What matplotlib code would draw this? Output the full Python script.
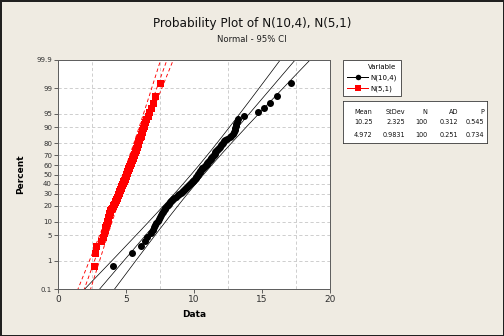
import numpy as np
import matplotlib
matplotlib.use('Agg')
import matplotlib.pyplot as plt
from matplotlib.patches import Rectangle
from statistics import NormalDist

# sorted sample values
n10_4 = [4.04, 5.46, 6.08, 6.42, 6.58, 6.86, 6.95, 7.06, 7.15, 7.24,
         7.33, 7.41, 7.48, 7.55, 7.62, 7.70, 7.77, 7.84, 7.90, 8.02,
         8.10, 8.18, 8.24, 8.30, 8.36, 8.42, 8.55, 8.68, 8.80, 8.92,
         9.04, 9.14, 9.20, 9.26, 9.34, 9.42, 9.50, 9.58, 9.66, 9.72,
         9.78, 9.84, 9.90, 9.96, 10.02, 10.08, 10.13, 10.18, 10.23, 10.28,
         10.33, 10.38, 10.42, 10.46, 10.50, 10.56, 10.62, 10.68, 10.74, 10.80,
         10.86, 10.92, 10.98, 11.04, 11.10, 11.16, 11.22, 11.28, 11.34, 11.40,
         11.46, 11.52, 11.58, 11.64, 11.70, 11.78, 11.86, 11.94, 12.02, 12.08,
         12.14, 12.20, 12.26, 12.40, 12.62, 12.74, 12.84, 12.92, 12.98, 13.04,
         13.08, 13.12, 13.16, 13.22, 13.70, 14.73, 15.17, 15.59, 16.08, 17.13]
n5_1 = [2.65, 2.72, 2.76, 3.14, 3.30, 3.36, 3.42, 3.48, 3.53, 3.58,
        3.62, 3.66, 3.70, 3.74, 3.78, 3.82, 3.86, 3.92, 3.98, 4.04,
        4.08, 4.12, 4.16, 4.20, 4.24, 4.28, 4.31, 4.34, 4.38, 4.42,
        4.45, 4.48, 4.51, 4.54, 4.57, 4.60, 4.63, 4.66, 4.69, 4.72,
        4.75, 4.78, 4.81, 4.84, 4.87, 4.89, 4.92, 4.95, 4.97, 4.99,
        5.02, 5.04, 5.07, 5.09, 5.12, 5.14, 5.17, 5.19, 5.22, 5.25,
        5.28, 5.31, 5.34, 5.37, 5.40, 5.43, 5.46, 5.49, 5.52, 5.55,
        5.58, 5.61, 5.64, 5.67, 5.70, 5.73, 5.76, 5.79, 5.82, 5.85,
        5.88, 5.91, 5.95, 5.99, 6.03, 6.07, 6.11, 6.15, 6.20, 6.25,
        6.30, 6.36, 6.42, 6.50, 6.60, 6.72, 6.86, 6.96, 7.16, 7.50]

names = ['N(10,4)', 'N(5,1)']
means = [10.25, 4.972]
stdevs = [2.325, 0.9831]
mean_txt = ['10.25', '4.972']
stdev_txt = ['2.325', '0.9831']
n_txt = ['100', '100']
ad_txt = ['0.312', '0.251']
p_txt = ['0.545', '0.734']

pct_ticks = [0.1, 1, 5, 10, 20, 30, 40, 50, 60, 70, 80, 90, 95, 99, 99.9]
pct_labels = ['0.1', '1', '5', '10', '20', '30', '40', '50', '60', '70',
              '80', '90', '95', '99', '99.9']
x_ticks = [0, 5, 10, 15, 20]

nd = NormalDist()
_ppf = np.vectorize(nd.inv_cdf, otypes=[float])
_cdf = np.vectorize(nd.cdf, otypes=[float])


def fwd(p):
    p = np.clip(np.asarray(p, dtype=float) / 100.0, 1e-9, 1 - 1e-9)
    return _ppf(p)


def inv(z):
    return _cdf(np.asarray(z, dtype=float)) * 100.0


bg = '#EFEBE2'
W, H = 504, 336
fig = plt.figure(figsize=(W / 72, H / 72), dpi=72, facecolor=bg)
fig.patches.append(Rectangle((0, 0), 1, 1, transform=fig.transFigure,
                             fill=False, edgecolor='#202020', lw=3))

ax = fig.add_axes([58 / W, 1 - 289 / H, 272 / W, 229 / H])
ax.set_facecolor('white')
ax.set_yscale('function', functions=(fwd, inv))

styles = [dict(color='black', marker='o', ls='-', lw=0.7, ms=7),
          dict(color='#FF0000', marker='s', ls=(0, (4, 3)), lw=0.9, ms=7)]

zgrid = np.linspace(-3.3, 3.3, 200)
handles = []
for data, mu, sd, st in zip([n10_4, n5_1], means, stdevs, styles):
    n = len(data)
    pos = 100.0 * (np.arange(1, n + 1) - 0.3) / (n + 0.4)
    centre = mu + sd * zgrid
    se = sd * np.sqrt(1.0 / n + zgrid ** 2 / (2.0 * n))
    pg = inv(zgrid)
    for xs in (centre, centre - 1.96 * se, centre + 1.96 * se):
        ax.plot(xs, pg, color=st['color'], ls=st['ls'], lw=st['lw'], zorder=2)
    ax.plot(data, pos, ls='none', marker=st['marker'], color=st['color'],
            ms=st['ms'], mew=0, zorder=3)
    handles.append(plt.Line2D([], [], color=st['color'], ls='-', lw=1.0,
                              marker=st['marker'], ms=5.5, mew=0))

ax.set_xlim(0, 20)
ax.set_ylim(0.1, 99.9)
ax.set_xticks(x_ticks)
ax.set_xticks(np.arange(0, 20.1, 2.5), minor=True)
ax.set_yticks(pct_ticks)
ax.set_yticklabels(pct_labels)
ax.yaxis.set_minor_locator(matplotlib.ticker.NullLocator())
ax.tick_params(axis='x', which='major', labelsize=9, length=4, color='#404040',
               labelcolor='#303030', pad=2)
ax.tick_params(axis='x', which='minor', length=0)
ax.tick_params(axis='y', labelsize=7, length=4, color='#404040',
               labelcolor='#303030', pad=2)
ax.grid(True, which='minor', axis='x', color='#C4C4C4', ls=(0, (4, 3)), lw=0.8)
ax.grid(True, which='major', axis='y', color='#C4C4C4', ls=(0, (4, 3)), lw=0.8)
for s in ax.spines.values():
    s.set_color('#606060')
    s.set_linewidth(1)

ax.set_xlabel('Data', fontsize=9, fontweight='bold', labelpad=6)
ax.set_ylabel('Percent', fontsize=9, fontweight='bold', labelpad=11)

fig.text(0.5, 1 - 23 / H, 'Probability Plot of N(10,4), N(5,1)', ha='center',
         va='center', fontsize=12, color='#101010')
fig.text(0.5, 1 - 39 / H, 'Normal - 95% CI', ha='center', va='center',
         fontsize=8.5, color='#202020')

leg = fig.legend(handles, names, title='Variable', loc='upper left',
                 bbox_to_anchor=(343 / W, 1 - 60 / H), fontsize=7,
                 title_fontsize=7, frameon=True, fancybox=False,
                 handlelength=3, borderpad=0.6, labelspacing=0.6,
                 handletextpad=0.3, borderaxespad=0)
leg.get_frame().set_edgecolor('#303030')
leg.get_frame().set_linewidth(0.8)
leg.get_frame().set_facecolor('white')
leg.get_frame().set_alpha(1)
leg._legend_box.align = 'right'

tab = fig.add_axes([343 / W, 1 - 143.5 / H, 144 / W, 42 / H])
tab.set_xticks([])
tab.set_yticks([])
tab.set_facecolor('white')
for s in tab.spines.values():
    s.set_color('#303030')
    s.set_linewidth(0.8)
cols_right = [372.5, 405.5, 427, 458.5, 484]
headers = ['Mean', 'StDev', 'N', 'AD', 'P']
rows_y = [111.5, 122.5, 135]
for j, (hd, xr) in enumerate(zip(headers, cols_right)):
    fig.text(xr / W, 1 - rows_y[0] / H, hd, ha='right', va='center',
             fontsize=6.5, color='#101010')
for i in range(len(names)):
    vals = [mean_txt[i], stdev_txt[i], n_txt[i], ad_txt[i], p_txt[i]]
    for v, xr in zip(vals, cols_right):
        fig.text(xr / W, 1 - rows_y[i + 1] / H, v, ha='right', va='center',
                 fontsize=6.5, color='#101010')

fig.savefig('out.png', dpi=72, facecolor=bg)
